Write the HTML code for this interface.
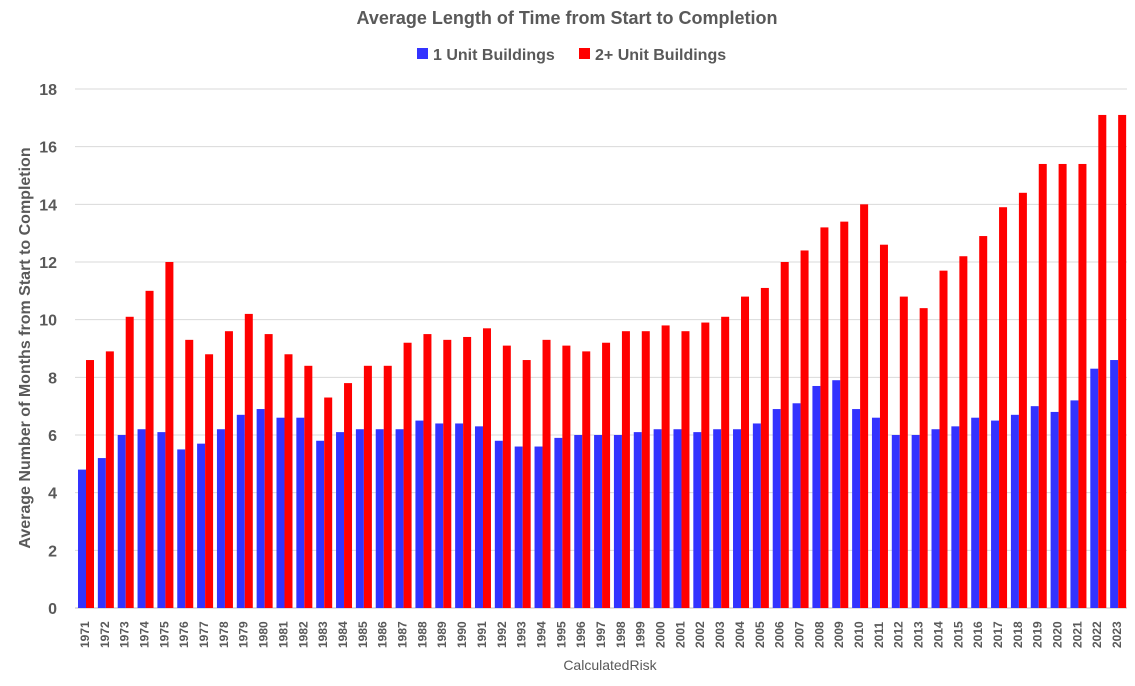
<!DOCTYPE html>
<html><head><meta charset="utf-8"><style>
body{margin:0;background:#fff;font-family:"Liberation Sans",sans-serif;}
svg text{font-family:"Liberation Sans",sans-serif;fill:#595959;}
</style></head><body>
<svg id="chart" width="1135" height="681">
<text x="567" y="24" text-anchor="middle" font-size="18" font-weight="bold">Average Length of Time from Start to Completion</text>
<g>
<rect x="417" y="48" width="11" height="11" fill="#3333ff"/>
<text x="433" y="60" font-size="16" font-weight="bold">1 Unit Buildings</text>
<rect x="579" y="48" width="11" height="11" fill="#ff0000"/>
<text x="595" y="60" font-size="16" font-weight="bold">2+ Unit Buildings</text>
</g>
<text transform="translate(30,348) rotate(-90)" text-anchor="middle" font-size="16" font-weight="bold">Average Number of Months from Start to Completion</text>
<text x="610" y="670" text-anchor="middle" font-size="14">CalculatedRisk</text>
<g id="grid"></g><g id="bars"></g><g id="labels"></g>
</svg>
<script>
const years=[];for(let y=1971;y<=2023;y++)years.push(String(y));
const oneUnit=[4.8,5.2,6.0,6.2,6.1,5.5,5.7,6.2,6.7,6.9,6.6,6.6,5.8,6.1,6.2,6.2,6.2,6.5,6.4,6.4,6.3,5.8,5.6,5.6,5.9,6.0,6.0,6.0,6.1,6.2,6.2,6.1,6.2,6.2,6.4,6.9,7.1,7.7,7.9,6.9,6.6,6.0,6.0,6.2,6.3,6.6,6.5,6.7,7.0,6.8,7.2,8.3,8.6];
const twoPlus=[8.6,8.9,10.1,11.0,12.0,9.3,8.8,9.6,10.2,9.5,8.8,8.4,7.3,7.8,8.4,8.4,9.2,9.5,9.3,9.4,9.7,9.1,8.6,9.3,9.1,8.9,9.2,9.6,9.6,9.8,9.6,9.9,10.1,10.8,11.1,12.0,12.4,13.2,13.4,14.0,12.6,10.8,10.4,11.7,12.2,12.9,13.9,14.4,15.4,15.4,15.4,17.1,17.1];
const yTicks=[0,2,4,6,8,10,12,14,16,18];
const NS="http://www.w3.org/2000/svg";
const L=75,R=1127,T=89,B=608,yMax=18;
const g=(R-L)/years.length;
const ys=v=>B-(v/yMax)*(B-T);
const xs=i=>L+i*g;
function mk(t,a,p){const e=document.createElementNS(NS,t);for(const k in a)e.setAttribute(k,a[k]);p.appendChild(e);return e;}
const grid=document.getElementById('grid'),bars=document.getElementById('bars'),labels=document.getElementById('labels');
yTicks.forEach(t=>{
 const ln=mk('line',{x1:L,x2:R,y1:ys(t),y2:ys(t),stroke:t===0?'#bfbfbf':'#d9d9d9','stroke-width':1},grid);
 
 
 const tx=mk('text',{x:L-18,y:ys(t)+6,'text-anchor':'end','font-size':16,'font-weight':'bold'},labels);
 tx.textContent=t;
 
 
});
years.forEach((yr,i)=>{
 const x=xs(i)+3,w=8;
 const b1=mk('rect',{x:x,y:ys(oneUnit[i]),width:w,height:B-ys(oneUnit[i]),fill:'#3333ff'},bars);
 
 
 const b2=mk('rect',{x:x+w,y:ys(twoPlus[i]),width:w,height:B-ys(twoPlus[i]),fill:'#ff0000'},bars);
 
 
 const cx=xs(i)+g/2+4;
 const tx=mk('text',{transform:`translate(${cx},648) rotate(-90)`,'font-size':12,'font-weight':'bold'},labels);
 tx.textContent=yr;
 
 
});
</script>
</body></html>
